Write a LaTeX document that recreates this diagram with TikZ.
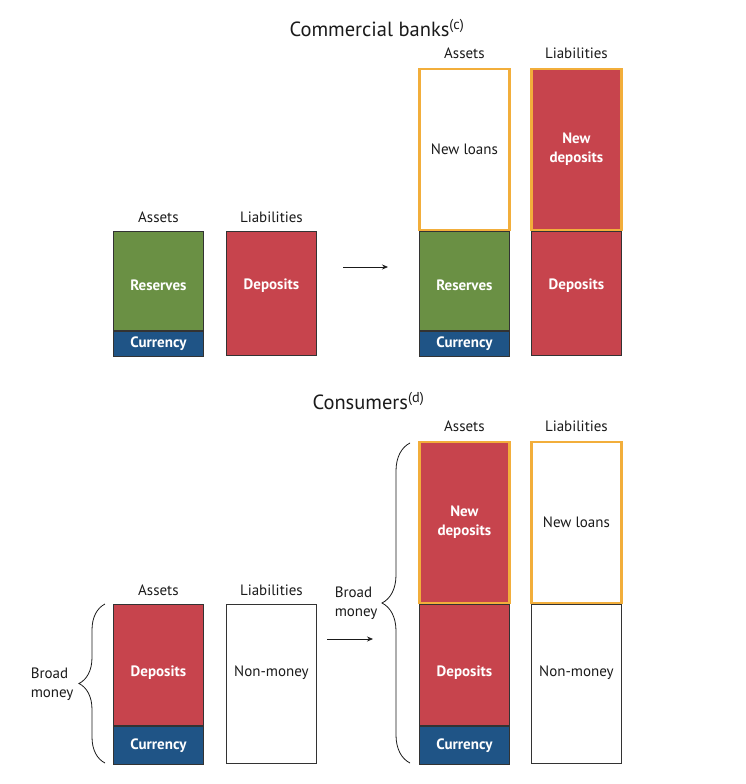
\documentclass[tikz,border=0pt]{standalone}
\usepackage{fontspec}
\setmainfont{PT Sans}
\usetikzlibrary{positioning,arrows.meta,decorations.pathreplacing}

\definecolor{resG}{HTML}{6A9044}
\definecolor{depR}{HTML}{C7444D}
\definecolor{curB}{HTML}{1F5486}
\definecolor{newO}{HTML}{F2AE3B}
\definecolor{edge}{HTML}{333333}
\definecolor{ink}{HTML}{1A1A1A}

\begin{document}
\begin{tikzpicture}[x=1pt, y=-1pt,
    box/.style={draw=edge, line width=0.8pt, inner sep=0pt, minimum width=90pt, align=center,
      font=\fontsize{15}{19}\selectfont\bfseries, text=white},
    plain/.style={box, fill=white, text=ink, font=\fontsize{15}{19}\selectfont},
    newbox/.style={draw=newO, line width=2.4pt},
    wtxt/.style={font=\fontsize{15}{19}\selectfont\bfseries, text=white, inner sep=0pt},
    dtxt/.style={font=\fontsize{15}{19}\selectfont, text=ink, inner sep=0pt},
    lbl/.style={font=\fontsize{15}{19}\selectfont, text=ink},
    ttl/.style={font=\fontsize{20.5}{24}\selectfont, text=ink},
    flow/.style={-{Stealth[length=6pt,width=5pt]}, line width=0.7pt, ink},
    brc/.style={decorate, decoration={brace, amplitude=#1}, line width=0.8pt, ink}]
    \useasboundingbox (0,0) rectangle (746,784);

    % commercial banks
    \node[ttl, anchor=west] (cbTitle) at (286,28) {Commercial banks\textsuperscript{(c)}};

    % before
    \node[box, fill=resG, minimum height=99pt, anchor=north west,
      label={[wtxt, yshift=-4.5pt]center:Reserves}] (cbRes) at (113,231) {};
    \node[box, fill=curB, minimum height=25pt, below=0pt of cbRes] (cbCur) {Currency};
    \node[box, fill=depR, minimum height=124pt, anchor=north west,
      label={[wtxt, yshift=8pt]center:Deposits}] (cbDep) at (226,231) {};
    \node[lbl, above=5pt of cbRes] (cbAss) {Assets};
    \node[lbl, above=5pt of cbDep] (cbLia) {Liabilities};

    \coordinate (cbFrom) at (343,267);
    \coordinate (cbTo) at (388,267);
    \draw[flow] (cbFrom) -- (cbTo);

    % after
    \node[box, fill=resG, minimum height=99pt, anchor=north west,
      label={[wtxt, yshift=-4.5pt]center:Reserves}] (cbRes2) at (419,231) {};
    \node[box, fill=curB, minimum height=25pt, below=0pt of cbRes2] (cbCur2) {Currency};
    \node[box, fill=depR, minimum height=124pt, anchor=north west,
      label={[wtxt, yshift=8pt]center:Deposits}] (cbDep2) at (531,231) {};
    \node[plain, newbox, minimum height=161pt, above=0pt of cbRes2] (cbLoan) {New loans};
    \node[box, newbox, fill=depR, minimum height=161pt, above=0pt of cbDep2] (cbNewDep) {New\\deposits};
    \node[lbl, above=5pt of cbLoan] (cbAss2) {Assets};
    \node[lbl, above=5pt of cbNewDep] (cbLia2) {Liabilities};

    % consumers
    \node[ttl, anchor=west] (csTitle) at (309,401) {Consumers\textsuperscript{(d)}};

    % before
    \node[box, fill=depR, minimum height=121pt, anchor=north west,
      label={[wtxt, yshift=-7.5pt]center:Deposits}] (csDep) at (113,604) {};
    \node[box, fill=curB, minimum height=38pt, below=0pt of csDep] (csCur) {Currency};
    \node[plain, minimum height=159pt, anchor=north west,
      label={[dtxt, yshift=11.5pt]center:Non-money}] (csNon) at (226,604) {};
    \node[lbl, above=5pt of csDep] (csAss) {Assets};
    \node[lbl, above=5pt of csNon] (csLia) {Liabilities};

    \coordinate (csBrBot) at (105,763);
    \coordinate (csBrTop) at (105,604);
    \draw[brc=26pt] (csBrBot) -- (csBrTop);
    \node[lbl, align=left, anchor=east] (csBroad) at (77,684) {Broad\\money};

    \coordinate (csFrom) at (327,639);
    \coordinate (csTo) at (373,639);
    \draw[flow] (csFrom) -- (csTo);

    % after
    \node[box, fill=depR, minimum height=121pt, anchor=north west,
      label={[wtxt, yshift=-7.5pt]center:Deposits}] (csDep2) at (419,604) {};
    \node[box, fill=curB, minimum height=38pt, below=0pt of csDep2] (csCur2) {Currency};
    \node[plain, minimum height=159pt, anchor=north west,
      label={[dtxt, yshift=11.5pt]center:Non-money}] (csNon2) at (531,604) {};
    \node[box, newbox, fill=depR, minimum height=161pt, above=0pt of csDep2] (csNewDep) {New\\deposits};
    \node[plain, newbox, minimum height=161pt, above=0pt of csNon2] (csLoan) {New loans};
    \node[lbl, above=5pt of csNewDep] (csAss2) {Assets};
    \node[lbl, above=5pt of csLoan] (csLia2) {Liabilities};

    \coordinate (csBrBot2) at (410,763);
    \coordinate (csBrTop2) at (410,443);
    \draw[brc=28pt] (csBrBot2) -- (csBrTop2);
    \node[lbl, align=left, anchor=east] (csBroad2) at (381,603) {Broad\\money};
  \end{tikzpicture}
\end{document}
